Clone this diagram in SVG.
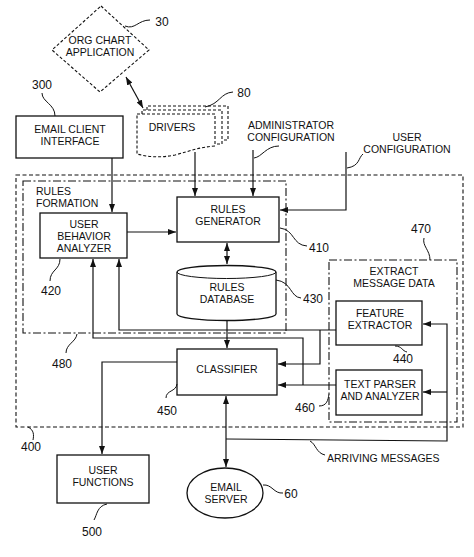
<svg xmlns="http://www.w3.org/2000/svg" width="474" height="557" viewBox="0 0 474 557">
<style>
text{font-family:"Liberation Sans",Arial,sans-serif;font-size:10.5px;fill:#111;text-anchor:middle}
.n{font-size:12px}
.l{text-anchor:start}
.box{fill:#fff;stroke:#111;stroke-width:1.3}
.dash{fill:none;stroke:#111;stroke-width:1.1;stroke-dasharray:4,2.5}
.dd{fill:none;stroke:#111;stroke-width:1.1;stroke-dasharray:8,2.5,2,2.5}
.ln{fill:none;stroke:#111;stroke-width:1.2}
.ld{fill:none;stroke:#111;stroke-width:1}
.a{marker-end:url(#ah)}
.b{marker-start:url(#ah);marker-end:url(#ah)}
</style>
<defs>
<marker id="ah" viewBox="0 0 8 6" refX="8" refY="3" markerWidth="8" markerHeight="6" markerUnits="userSpaceOnUse" orient="auto-start-reverse">
<path d="M0,0 L8,3 L0,6 z" fill="#111"/>
</marker>
</defs>
<rect width="474" height="557" fill="#fff"/>

<g id="system-400">
<rect class="dash" x="16" y="175" width="447" height="252"/>
<path class="ld" d="M28,427 C34,430 34,435 33,440"/>
<text class="n" x="31" y="451">400</text>
</g>

<g id="rules-formation-480">
<rect class="dd" x="23" y="181" width="263" height="152"/>
<text class="l" x="36" y="195">RULES</text>
<text class="l" x="36" y="207">FORMATION</text>
<path class="ld" d="M77,334 C76,342 66,344 66,353"/>
<text class="n" x="62" y="368">480</text>
</g>

<g id="extract-470">
<rect class="dd" x="329" y="260" width="128" height="162"/>
<text x="394" y="275">EXTRACT</text>
<text x="394" y="287">MESSAGE DATA</text>
<path class="ld" d="M424,238 C422,246 430,250 430,260"/>
<text class="n" x="421" y="233">470</text>
</g>

<g id="connectors">
<path class="ln b" d="M126,77 L143,108"/>
<path class="ln a" d="M112,158 V212"/>
<path class="ln a" d="M195,152 V196"/>
<path class="ln a" d="M253,150 V196"/>
<path class="ln a" d="M346,152 V210 H280"/>
<path class="ln a" d="M127,232 H176"/>
<path class="ln b" d="M227,243 V264"/>
<path class="ln a" d="M227,321 V348"/>
<path class="ln a" d="M336,330 H119 V259"/>
<path class="ln a" d="M320,330 V364 H278"/>
<path class="ln a" d="M336,385 H278"/>
<path class="ln a" d="M303,385 V338 H93 V259"/>
<path class="ln a" d="M177,362 H102 V454"/>
<path class="ln b" d="M226,396 V467"/>
<path class="ln a" d="M226,439 L447,441 V324 H423"/>
<path class="ln a" d="M447,392 H423"/>
</g>

<g id="org-chart-30">
<polygon points="101,6 149,50 100,92 52,50" fill="#fff" stroke="#111" stroke-width="1.1" stroke-dasharray="3,2"/>
<text x="100" y="44">ORG CHART</text>
<text x="100" y="56">APPLICATION</text>
<path class="ld" d="M125,26 C135,30 138,20 150,20"/>
<text class="n" x="162" y="26">30</text>
</g>

<g id="drivers-80">
<path d="M147,110 V106 H228 V140 H222" fill="none" stroke="#111" stroke-width="1.1" stroke-dasharray="3,2"/>
<path d="M142,114 V110 H222 V144 H215" fill="none" stroke="#111" stroke-width="1.1" stroke-dasharray="3,2"/>
<path d="M137,114 H215 V146 C200,147 190,151 175,155 C160,158 148,157 137,154 Z" fill="#fff" stroke="#111" stroke-width="1.1" stroke-dasharray="3,2"/>
<text x="172" y="131">DRIVERS</text>
<path class="ld" d="M205,107 C220,104 220,93 233,92"/>
<text class="n" x="244" y="97">80</text>
</g>

<g id="email-client-300">
<rect class="box" x="16" y="116" width="107" height="42"/>
<text x="70" y="133">EMAIL CLIENT</text>
<text x="70" y="145">INTERFACE</text>
<path class="ld" d="M55,116 C55,104 42,102 42,93"/>
<text class="n" x="42" y="89">300</text>
</g>

<g id="admin-config">
<text x="291" y="129">ADMINISTRATOR</text>
<text x="291" y="141">CONFIGURATION</text>
<path class="ld" d="M254,158 C262,157 266,146 279,146"/>
</g>

<g id="user-config">
<text x="407" y="141">USER</text>
<text x="407" y="153">CONFIGURATION</text>
<path class="ld" d="M347,168 C360,166 358,158 363,154"/>
</g>

<g id="uba-420">
<rect class="box" x="40" y="213" width="87" height="45"/>
<text x="84" y="228">USER</text>
<text x="84" y="240">BEHAVIOR</text>
<text x="84" y="252">ANALYZER</text>
<path class="ld" d="M60,259 C60,270 50,270 50,281"/>
<text class="n" x="51" y="295">420</text>
</g>

<g id="rules-generator-410">
<rect class="box" x="177" y="197" width="102" height="45"/>
<text x="228" y="213">RULES</text>
<text x="228" y="225">GENERATOR</text>
<path class="ld" d="M280,228 C295,230 292,245 307,246"/>
<text class="n" x="319" y="252">410</text>
</g>

<g id="rules-database-430">
<path class="box" d="M177,272 A49.5,6.5 0 0 1 276,272 V314 A49.5,6.5 0 0 1 177,314 Z"/>
<path class="ld" d="M177,272 A49.5,6.5 0 0 0 276,272"/>
<text x="227" y="291">RULES</text>
<text x="227" y="303">DATABASE</text>
<path class="ld" d="M276,280 C292,282 290,297 301,298"/>
<text class="n" x="313" y="303">430</text>
</g>

<g id="classifier-450">
<rect class="box" x="177" y="349" width="100" height="46"/>
<text x="227" y="373">CLASSIFIER</text>
<path class="ld" d="M177,384 C176,392 166,390 166,398"/>
<text class="n" x="167" y="415">450</text>
</g>

<g id="feature-extractor-440">
<rect class="box" x="336" y="301" width="86" height="44"/>
<text x="380" y="317">FEATURE</text>
<text x="380" y="329">EXTRACTOR</text>
<path class="ld" d="M395,346 C402,346 402,351 407,352"/>
<text class="n" x="403" y="363">440</text>
</g>

<g id="text-parser-460">
<rect class="box" x="336" y="370" width="86" height="45"/>
<text x="380" y="388">TEXT PARSER</text>
<text x="380" y="400">AND ANALYZER</text>
<path class="ld" d="M319,406 C327,406 328,400 329,394"/>
<text class="n" x="305" y="412">460</text>
</g>

<g id="user-functions-500">
<rect class="box" x="57" y="455" width="92" height="48"/>
<text x="103" y="474">USER</text>
<text x="103" y="486">FUNCTIONS</text>
<path class="ld" d="M107,504 C97,506 97,515 94,520"/>
<text class="n" x="92" y="536">500</text>
</g>

<g id="email-server-60">
<ellipse class="box" cx="225" cy="493" rx="38" ry="25"/>
<text x="226" y="491">EMAIL</text>
<text x="226" y="503">SERVER</text>
<path class="ld" d="M263,485 C272,484 274,494 283,493"/>
<text class="n" x="291" y="498">60</text>
</g>

<g id="arriving-messages">
<path class="ld" d="M310,441 C316,444 316,453 325,455"/>
<text class="l" x="327" y="462">ARRIVING MESSAGES</text>
</g>
</svg>
